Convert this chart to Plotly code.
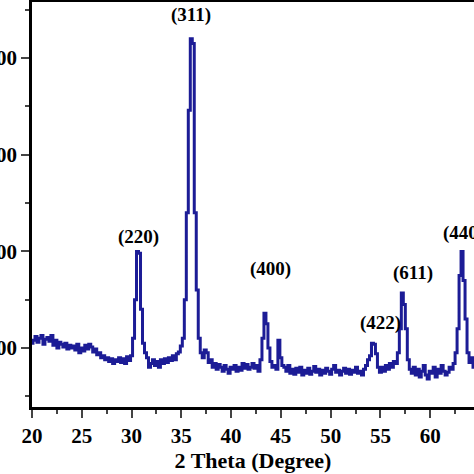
import numpy as np
import plotly.graph_objects as go

two_theta = np.round(np.linspace(20, 64.4, 223), 2)
intensity = [
105,108,112,106,110,113,104,109,111,107,113,103,108,100,106,104,101,105,99,103,100,
102,98,104,95,100,97,103,99,104,101,96,99,93,95,90,92,88,90,86,89,
84,88,86,90,85,89,84,91,87,92,
110,150,200,198,140,105,95,
90,80,84,88,82,86,80,88,84,89,85,90,87,92,88,94,96,102,
110,150,240,346,420,415,240,160,110,95,
90,98,95,85,88,80,84,78,83,80,76,82,78,74,80,
78,82,76,80,77,84,79,83,78,80,84,79,82,76,88,
110,136,125,100,86,80,82,78,
108,90,82,
80,76,82,74,78,73,79,75,80,72,77,74,79,73,76,81,75,78,72,77,74,79,76,73,78,82,75,77,72,76,79,74,78,73,77,75,80,74,76,72,78,82,88,92,
105,104,94,80,75,80,76,82,78,84,80,86,84,
95,120,157,145,120,88,78,74,80,72,
78,70,76,82,72,68,76,74,80,70,78,74,82,76,72,75,80,78,84,
95,120,175,200,170,130,95,85,90,80,
]
peak_labels = ["(220)", "(311)", "(400)", "(422)", "(611)", "(440)"]
peak_x = [30.7, 36.0, 44.0, 55.0, 58.3, 61.1]
peak_y = [215, 445, 182, 126, 178, 219]
peak_anchor = ["center", "center", "center", "center", "center", "left"]

font_serif = "Liberation Serif"
fig = go.Figure(go.Scatter(x=two_theta, y=intensity, mode="lines",
                           line=dict(color="#1c1c96", width=3, shape="hvh")))
for t, x, y, a in zip(peak_labels, peak_x, peak_y, peak_anchor):
    fig.add_annotation(x=x, y=y, text="<b>%s</b>" % t, showarrow=False, xanchor=a,
                       font=dict(family=font_serif, size=19, color="black"))
fig.update_layout(
    width=474, height=474, margin=dict(l=32, r=0, t=2, b=67),
    plot_bgcolor="white", paper_bgcolor="white", showlegend=False,
    xaxis=dict(range=[20, 64.4], tickmode="array", tickvals=[20,25,30,35,40,45,50,55,60],
               ticktext=["<b>%d</b>" % v for v in [20,25,30,35,40,45,50,55,60]],
               ticks="outside", ticklen=8, tickwidth=2, showline=True, linewidth=2.5,
               linecolor="black", mirror=True, showgrid=False, zeroline=False,
               minor=dict(ticks="outside", ticklen=4, tickwidth=2, dtick=2.5),
               tickfont=dict(family=font_serif, size=21, color="black"),
               title=dict(text="<b>2 Theta (Degree)</b>", standoff=6,
                          font=dict(family=font_serif, size=22, color="black"))),
    yaxis=dict(range=[39, 458], tickmode="array", tickvals=[100,200,300,400],
               ticktext=["<b>%d</b>" % v for v in [100,200,300,400]],
               ticks="outside", ticklen=8, tickwidth=2, showline=True, linewidth=2.5,
               linecolor="black", mirror=True, showgrid=False, zeroline=False,
               automargin=False,
               minor=dict(ticks="outside", ticklen=4, tickwidth=2, dtick=50),
               tickfont=dict(family=font_serif, size=21, color="black")),
)
fig.write_html("out.html", config={"displayModeBar": False},
               post_script="document.body.style.margin='0';document.body.style.overflow='hidden';")
